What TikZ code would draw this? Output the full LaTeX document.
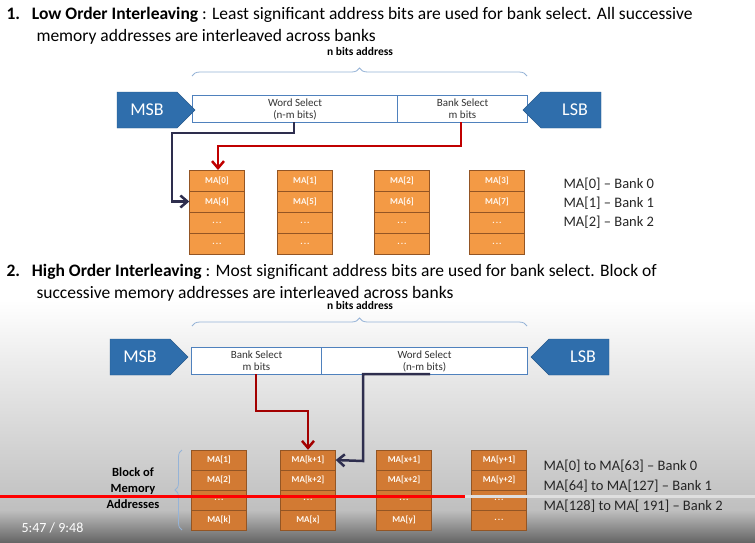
\documentclass[tikz,border=0pt]{standalone}
\usepackage{fontspec}
\setmainfont{Carlito}
\usetikzlibrary{decorations.pathreplacing,shapes.arrows,arrows.meta}
\definecolor{bank}{HTML}{F39A45}
\definecolor{bankd}{HTML}{D27A33}
\definecolor{bline}{HTML}{4F81BD}
\definecolor{arrowb}{HTML}{2F6EAC}
\definecolor{navy}{HTML}{2E2E4E}
\definecolor{redd}{HTML}{C00000}
\newcommand\mydts{.\kern1pt.\kern1pt.}
\tikzset{
 px/.style={x=1pt,y=-1pt},
 addr/.style={draw=bline,line width=1pt,fill=white},
 lbl/.style={font=\fontsize{11}{12}\selectfont,align=center,text=black!80},
 big/.style={single arrow,fill=arrowb,draw=arrowb!80!black,minimum height=78pt,minimum width=36pt,single arrow head extend=0pt,inner sep=1pt,font=\fontsize{18}{18}\selectfont,text=white},
 cell/.style={draw=bankd!70!black,fill=#1,minimum width=55pt,minimum height=21pt,inner sep=0pt,font=\bfseries\fontsize{9}{9}\selectfont,text=white!95!orange},
 conn/.style={line width=2.5pt,-{Straight Barb[length=7pt,width=12pt]}},
 br/.style={decorate,decoration={brace,amplitude=8pt},draw=bline!60,line width=0.8pt},
 side/.style={font=\fontsize{14.5}{16}\selectfont,anchor=west,text=black!85},
 title/.style={font=\fontsize{17.5}{20}\selectfont,anchor=west}
}
\begin{document}
\begin{tikzpicture}[px]
\useasboundingbox (0,0) rectangle (755,542);
\fill[white] (0,0) rectangle (755,542);
\shade[top color=white,bottom color=black!25] (0,300) rectangle (755,510);
\shade[top color=black!25,bottom color=black!60] (0,510) rectangle (755,542);
% ---- part 1
\node[title] (t1) at (3,15) {\textbf{1.\ \ \ Low Order Interleaving} : Least significant address bits are used for bank select. All successive};
\node[title] (t1b) at (33,37) {memory addresses are interleaved across banks};
\node[font=\bfseries\fontsize{11.5}{12}\selectfont] (n1) at (360,52) {n bits address};
\draw[br] (192,76) -- (527,76);
\node[addr,minimum width=205pt,minimum height=27pt,inner sep=0pt,anchor=north west] (ws1) at (192,95) {};
\node[addr,minimum width=130pt,minimum height=27pt,inner sep=0pt,anchor=north west] (bs1) at (397,95) {};
\node[lbl] at (ws1) {Word Select\\(n-m bits)};
\node[lbl] at (bs1) {Bank Select\\m bits};
\node[big] (msb1) at (147,110) {MSB\hspace{8pt}};
\node[big,shape border rotate=180] (lsb1) at (571,110) {\hspace{8pt}LSB};
\foreach \x/\i in {217/0,305/1,402/2,497/3}{
 \pgfmathtruncatemacro\j{\i+4}
 \node[cell=bank] (a\i) at (\x,180.5) {MA[\i]};
 \node[cell=bank] (b\i) at (\x,201.5) {MA[\j]};
 \node[cell=bank] (c\i) at (\x,222.5) {\mydts};
 \node[cell=bank] (d\i) at (\x,243.5) {\mydts};
}
\coordinate (w1) at (294,122);
\coordinate (r1) at (461,122);
\draw[conn,navy] (w1) -- (294,133) -- (172,133) |- (b0.west);
\draw[conn,redd] (r1) -- (461,146) -- (218,146) -- (218,170);
\node[side] (s1) at (560,184) {MA[0] -- Bank 0};
\node[side] (s2) at (560,203) {MA[1] -- Bank 1};
\node[side] (s3) at (560,222) {MA[2] -- Bank 2};
% ---- part 2
\node[title] (t2) at (3,272) {\textbf{2.\ \ \ High Order Interleaving} : Most significant address bits are used for bank select. Block of};
\node[title] (t2b) at (33,294) {successive memory addresses are interleaved across banks};
\node[font=\bfseries\fontsize{11.5}{12}\selectfont] (n2) at (360,305) {n bits address};
\draw[br] (192,326) -- (527,326);
\node[addr,minimum width=130pt,minimum height=27pt,inner sep=0pt,anchor=north west] (bs2) at (191,347) {};
\node[addr,minimum width=206pt,minimum height=27pt,inner sep=0pt,anchor=north west] (ws2) at (321,347) {};
\node[lbl] at (bs2) {Bank Select\\m bits};
\node[lbl] at (ws2) {Word Select\\(n-m bits)};
\node[big] (msb2) at (140,357) {MSB\hspace{8pt}};
\node[big,shape border rotate=180] (lsb2) at (579,357) {\hspace{8pt}LSB};
\foreach \x/\p/\q/\s/\k in {219/MA[1]/MA[2]/MA[k]/e,308/MA[k+1]/MA[k+2]/MA[x]/f,404/MA[x+1]/MA[x+2]/MA[y]/g,499/MA[y+1]/MA[y+2]/\mydts/h}{
 \node[cell=bankd,minimum height=20pt] (\k1) at (\x,460) {\p};
 \node[cell=bankd,minimum height=20pt] (\k2) at (\x,480) {\q};
 \node[cell=bankd,minimum height=20pt] (\k3) at (\x,500) {\mydts};
 \node[cell=bankd,minimum height=20pt] (\k4) at (\x,520) {\s};
}
\coordinate (r2) at (256,374);
\coordinate (w2) at (430,374);
\draw[conn,redd!85!black] (r2) -- (256,411) -- (308,411) -- (f1.north);
\draw[conn,navy] (w2) -- (363,374) -- (363,461) -- (f1.east);
\draw[decorate,decoration={brace,amplitude=7pt},draw=bline!60,line width=0.8pt] (182,530) -- (182,450);
\node[font=\bfseries\fontsize{12.5}{16}\selectfont,align=center] (blk) at (133,488) {Block of\\Memory\\Addresses};
\node[side] (s4) at (540,466) {MA[0] to MA[63] -- Bank 0};
\node[side] (s5) at (540,486) {MA[64] to MA[127] -- Bank 1};
\node[side] (s6) at (540,506) {MA[128] to MA[ 191] -- Bank 2};
% ---- player overlay
\draw[white!75!gray,line width=3pt] (465,496) -- (755,496);
\draw[red,line width=3pt] (0,496) -- (465,496);
\node[font=\fontsize{14}{15}\selectfont,text=white,anchor=west] (tm) at (18,528) {5:47 / 9:48};
\end{tikzpicture}
\end{document}
